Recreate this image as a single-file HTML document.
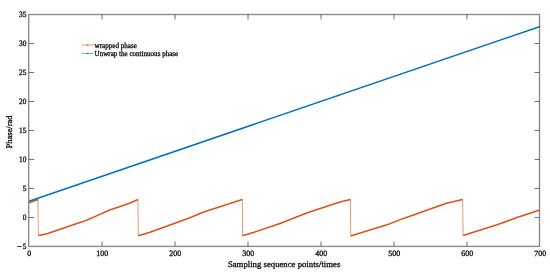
<!DOCTYPE html>
<html><head><meta charset="utf-8"><style>
html,body{margin:0;padding:0;background:#fff;width:550px;height:274px;overflow:hidden}
svg{display:block}
text{text-rendering:geometricPrecision;font-family:"Liberation Serif","Times New Roman",serif;fill:#111;stroke:#111;stroke-width:0.32px}
</style></head><body>
<svg width="550" height="274" viewBox="0 0 550 274">
<rect width="550" height="274" fill="#fff"/>
<rect x="28.7" y="14.5" width="510.80" height="231.90" fill="none" stroke="#8c8c8c" stroke-width="1.4"/>
<path d="M102.04 246.4V241.4M102.04 14.5V19.5M175.04 246.4V241.4M175.04 14.5V19.5M248.03 246.4V241.4M248.03 14.5V19.5M321.02 246.4V241.4M321.02 14.5V19.5M394.01 246.4V241.4M394.01 14.5V19.5M467.01 246.4V241.4M467.01 14.5V19.5M28.7 217.41H34.2M539.5 217.41H534.5M28.7 188.43H34.2M539.5 188.43H534.5M28.7 159.44H34.2M539.5 159.44H534.5M28.7 130.45H34.2M539.5 130.45H534.5M28.7 101.46H34.2M539.5 101.46H534.5M28.7 72.47H34.2M539.5 72.47H534.5M28.7 43.49H34.2M539.5 43.49H534.5" stroke="#4a4a4a" stroke-width="0.8" fill="none"/>
<path d="M37.9 199.6L38.4 235.6M137.9 199.5L138.3 235.8M242.4 199.5L242.6 235.8M350.5 199.4L350.7 235.9M462.7 199.6L463.1 235.6" fill="none" stroke="#e47c4e" stroke-width="0.8"/><path d="M29.1 202.8L37.9 199.6M38.4 235.6L46.2 234.1L82.9 221.6L90.0 218.8L96.0 216.1L109.7 210.0L128.3 203.7L137.9 199.5M138.3 235.8L149.4 232.5L190.0 217.8L203.0 212.3L223.0 205.8L242.4 199.5M242.6 235.8L253.4 232.5L280.0 223.5L307.4 212.7L327.7 205.9L340.0 201.9L350.5 199.4M350.7 235.9L357.8 233.7L389.4 223.9L405.0 217.9L426.8 210.2L446.5 203.2L462.7 199.6M463.1 235.6L496.3 225.1L517.0 217.6L539.8 209.9" fill="none" stroke="#d95319" stroke-width="1.55" stroke-linejoin="round"/>
<path d="M29.1 201.2L540.1 26.5" fill="none" stroke="#0072bd" stroke-width="1.5"/>
<g font-size="8.2">
<text x="29.20" y="255.9" text-anchor="middle" textLength="4.00" lengthAdjust="spacingAndGlyphs">0</text><text x="102.19" y="255.9" text-anchor="middle" textLength="12.00" lengthAdjust="spacingAndGlyphs">100</text><text x="175.19" y="255.9" text-anchor="middle" textLength="12.00" lengthAdjust="spacingAndGlyphs">200</text><text x="248.18" y="255.9" text-anchor="middle" textLength="12.00" lengthAdjust="spacingAndGlyphs">300</text><text x="321.17" y="255.9" text-anchor="middle" textLength="12.00" lengthAdjust="spacingAndGlyphs">400</text><text x="394.16" y="255.9" text-anchor="middle" textLength="12.00" lengthAdjust="spacingAndGlyphs">500</text><text x="467.16" y="255.9" text-anchor="middle" textLength="12.00" lengthAdjust="spacingAndGlyphs">600</text><text x="540.15" y="255.9" text-anchor="middle" textLength="12.00" lengthAdjust="spacingAndGlyphs">700</text><text x="16.9" y="248.60" textLength="5" lengthAdjust="spacingAndGlyphs">−</text><text x="26.5" y="248.60" text-anchor="end" textLength="3.70" lengthAdjust="spacingAndGlyphs">5</text><text x="26.5" y="219.61" text-anchor="end" textLength="3.70" lengthAdjust="spacingAndGlyphs">0</text><text x="26.5" y="190.62" text-anchor="end" textLength="3.70" lengthAdjust="spacingAndGlyphs">5</text><text x="26.5" y="161.64" text-anchor="end" textLength="7.40" lengthAdjust="spacingAndGlyphs">10</text><text x="26.5" y="132.65" text-anchor="end" textLength="7.40" lengthAdjust="spacingAndGlyphs">15</text><text x="26.5" y="103.66" text-anchor="end" textLength="7.40" lengthAdjust="spacingAndGlyphs">20</text><text x="26.5" y="74.67" text-anchor="end" textLength="7.40" lengthAdjust="spacingAndGlyphs">25</text><text x="26.5" y="45.69" text-anchor="end" textLength="7.40" lengthAdjust="spacingAndGlyphs">30</text><text x="26.5" y="16.70" text-anchor="end" textLength="7.40" lengthAdjust="spacingAndGlyphs">35</text>
</g>
<g>
<path d="M81.6 45.0H93.8" stroke="#d95319" stroke-width="0.9" opacity="0.7"/>
<circle cx="87.6" cy="45.0" r="0.75" fill="#d95319"/>
<path d="M81.6 53.4H93.8" stroke="#0072bd" stroke-width="0.9" opacity="0.7"/>
<circle cx="87.6" cy="53.4" r="0.75" fill="#0072bd"/>
<text x="94.6" y="47.6" font-size="7.6" textLength="42.3" lengthAdjust="spacingAndGlyphs">wrapped phase</text>
<text x="94.6" y="55.9" font-size="7.6" textLength="83.6" lengthAdjust="spacingAndGlyphs">Unwrap the continuous phase</text>
</g>
<text x="284.10" y="266.9" text-anchor="middle" font-size="8.6" textLength="112.4" lengthAdjust="spacingAndGlyphs">Sampling sequence points/times</text>
<text transform="translate(11.5 131.95) rotate(-90)" text-anchor="middle" font-size="8.5">Phase/rad</text>
</svg>
</body></html>
